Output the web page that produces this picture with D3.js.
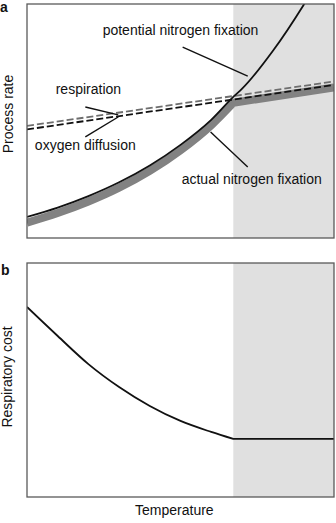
<!DOCTYPE html>
<html lang="en">
<head>
<meta charset="UTF-8">
<title>Process rate and respiratory cost</title>
<script src="https://d3js.org/d3.v7.min.js"></script>
<style>
  body { margin: 0; background: #fff; }
  text { font-family: "Liberation Sans", Arial, sans-serif; fill: #111; }
  .panel-letter { font-weight: bold; font-size: 14px; }
</style>
</head>
<body>
<script>
    // temperature threshold where the grey zone starts
    const threshold = 6.72;

    // panel a: process rates (arbitrary units 0-100)
    const potentialT = [0, 1, 2, 3, 4, 5, 6, 6.72, 7, 8, 9, 9.4];
    const potentialV = [9.0, 13.0, 17.9, 23.8, 31.0, 39.8, 50.5, 60.3, 63.7, 79.8, 99.4, 108];

    const actualT = [0, 1, 2, 3, 4, 5, 6, 6.72];
    const actualV = [6.6, 10.7, 15.6, 21.5, 28.7, 37.5, 48.2, 57.8];
    const actualAfterT = [6.72, 10];
    const actualAfterV = [57.8, 64.3];

    const respirationT = [0, 10];
    const respirationV = [47.9, 66.9];
    const oxygenT = [0, 10];
    const oxygenV = [46.4, 65.4];

    // panel b: respiratory cost
    const costT = [0, 1, 2, 3, 4, 5, 6, 6.72];
    const costV = [81.2, 68.8, 56.8, 47.0, 38.9, 32.5, 27.8, 24.8];
    const costAfterT = [6.72, 10];
    const costAfterV = [24.8, 24.8];

    // annotations, in data units
    const labels = [
        {text: "potential nitrogen fixation", t: 5.0, v: 86.8, line: [[5.07, 81.6], [7.19, 69.2]]},
        {text: "respiration", t: 2.0, v: 61.5, line: [[1.90, 56.0], [2.97, 52.6]]},
        {text: "oxygen diffusion", t: 1.9, v: 37.6, line: [[1.90, 43.2], [2.97, 51.7]]},
        {text: "actual nitrogen fixation", t: 7.32, v: 23.1, line: [[5.98, 45.3], [7.19, 30.3]]}
    ];

    const W = 336, H = 523;
    const left = 27, right = 334;
    const aTop = 4, aBottom = 238;
    const bTop = 263, bBottom = 497;

    const zip = (ts, vs) => ts.map((t, i) => ({t: t, v: vs[i]}));

    const svg = d3.select("body").append("svg")
        .attr("width", W)
        .attr("height", H);

    const x = d3.scaleLinear().domain([0, 10]).range([left, right]);
    const yA = d3.scaleLinear().domain([0, 100]).range([aBottom, aTop]);
    const yB = d3.scaleLinear().domain([0, 100]).range([bBottom, bTop]);

    function panel(id, top, bottom) {
        const defs = svg.append("defs");
        defs.append("clipPath").attr("id", id)
            .append("rect")
            .attr("x", left).attr("y", top)
            .attr("width", right - left).attr("height", bottom - top);

        // grey temperature zone
        svg.append("rect")
            .attr("x", x(threshold))
            .attr("y", top)
            .attr("width", right - x(threshold))
            .attr("height", bottom - top)
            .attr("fill", "#e0e0e0");

        return svg.append("g").attr("clip-path", `url(#${id})`);
    }

    function frame(top, bottom) {
        svg.append("rect")
            .attr("x", left).attr("y", top)
            .attr("width", right - left).attr("height", bottom - top)
            .attr("fill", "none")
            .attr("stroke", "#5a5a5a")
            .attr("stroke-width", 1.3);
    }

    // curved part plus straight part after the kink, as one path
    function kinked(y, curvePts, straightPts) {
        const curve = d3.line().x(d => x(d.t)).y(d => y(d.v)).curve(d3.curveMonotoneX);
        let d = curve(curvePts);
        straightPts.slice(1).forEach(p => { d += `L${x(p.t)},${y(p.v)}`; });
        return d;
    }

    // ---- panel a
    const ga = panel("clipA", aTop, aBottom);

    ga.append("path")
        .attr("d", kinked(yA, zip(actualT, actualV), zip(actualAfterT, actualAfterV)))
        .attr("fill", "none")
        .attr("stroke", "#828282")
        .attr("stroke-width", 8)
        .attr("stroke-linejoin", "miter");

    const straight = d3.line().x(d => x(d.t)).y(d => yA(d.v));

    ga.append("path")
        .datum(zip(respirationT, respirationV))
        .attr("d", straight)
        .attr("fill", "none")
        .attr("stroke", "#6e6e6e")
        .attr("stroke-width", 1.8)
        .attr("stroke-dasharray", "7,3");

    ga.append("path")
        .datum(zip(oxygenT, oxygenV))
        .attr("d", straight)
        .attr("fill", "none")
        .attr("stroke", "#111")
        .attr("stroke-width", 1.8)
        .attr("stroke-dasharray", "7,3");

    ga.append("path")
        .datum(zip(potentialT, potentialV))
        .attr("d", d3.line().x(d => x(d.t)).y(d => yA(d.v)).curve(d3.curveMonotoneX))
        .attr("fill", "none")
        .attr("stroke", "#111")
        .attr("stroke-width", 1.8);

    frame(aTop, aBottom);

    // annotation leaders and texts
    labels.forEach(l => {
        svg.append("line")
            .attr("x1", x(l.line[0][0])).attr("y1", yA(l.line[0][1]))
            .attr("x2", x(l.line[1][0])).attr("y2", yA(l.line[1][1]))
            .attr("stroke", "#111")
            .attr("stroke-width", 1.4);
        svg.append("text")
            .attr("x", x(l.t))
            .attr("y", yA(l.v))
            .attr("text-anchor", "middle")
            .style("font-size", "14px")
            .text(l.text);
    });

    // ---- panel b
    const gb = panel("clipB", bTop, bBottom);

    gb.append("path")
        .attr("d", kinked(yB, zip(costT, costV), zip(costAfterT, costAfterV)))
        .attr("fill", "none")
        .attr("stroke", "#111")
        .attr("stroke-width", 1.8);

    frame(bTop, bBottom);

    // axis labels
    svg.append("text")
        .attr("transform", "translate(13,114) rotate(-90)")
        .attr("text-anchor", "middle")
        .style("font-size", "14px")
        .text("Process rate");

    svg.append("text")
        .attr("transform", "translate(12,377) rotate(-90)")
        .attr("text-anchor", "middle")
        .style("font-size", "14px")
        .text("Respiratory cost");

    svg.append("text")
        .attr("x", x(4.8))
        .attr("y", 515)
        .attr("text-anchor", "middle")
        .style("font-size", "14px")
        .text("Temperature");

    // panel letters
    svg.append("text").attr("class", "panel-letter").attr("x", 0).attr("y", 12).text("a");
    svg.append("text").attr("class", "panel-letter").attr("x", 1).attr("y", 275).text("b");
</script>
</body>
</html>
